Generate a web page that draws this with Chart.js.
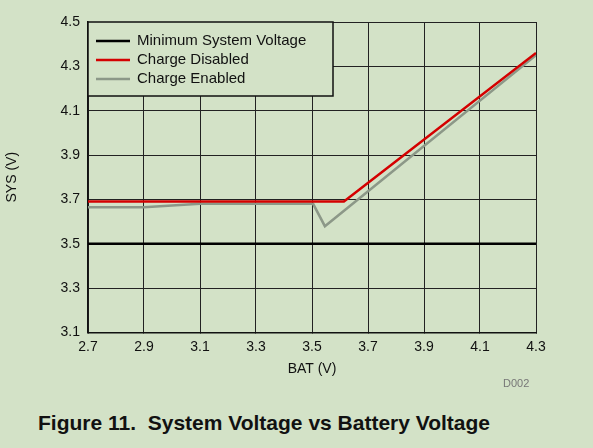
<!DOCTYPE html>
<html><head>
<script src="https://cdn.jsdelivr.net/npm/chart.js@4"></script>
<style>
body{margin:0;background:#d3e2c7;width:593px;height:448px;overflow:hidden;font-family:"Liberation Sans",Arial,sans-serif}
#wrap{position:absolute;left:0;top:0;width:593px;height:400px}
#cap{position:absolute;left:38px;top:411px;font-weight:bold;font-size:21px;color:#111}
#d{position:absolute;left:503px;top:377px;font-size:11px;color:#777}
</style></head><body>
<div id="wrap"><canvas id="c"></canvas></div>
<div id="d">D002</div>
<div id="cap">Figure 11.&nbsp; System Voltage vs Battery Voltage</div>
<script>
const xTicks = [2.7, 2.9, 3.1, 3.3, 3.5, 3.7, 3.9, 4.1, 4.3];
const yTicks = [3.1, 3.3, 3.5, 3.7, 3.9, 4.1, 4.3, 4.5];
const minSys = [{x: 2.7, y: 3.5}, {x: 4.3, y: 3.5}];
const chargeDisabled = [{x: 2.7, y: 3.69}, {x: 3.614, y: 3.69}, {x: 4.3, y: 4.36}];
const chargeEnabled = [{x: 2.7, y: 3.665}, {x: 2.9, y: 3.665}, {x: 3.1, y: 3.68}, {x: 3.504, y: 3.68}, {x: 3.546, y: 3.579}, {x: 4.3, y: 4.35}];

new Chart(document.getElementById('c'), {
  type: 'line',
  data: {
    datasets: [
      { label: 'Minimum System Voltage', data: minSys, borderColor: '#000', borderWidth: 2.5 },
      { label: 'Charge Disabled', data: chargeDisabled, borderColor: '#d40000', borderWidth: 2.5 },
      { label: 'Charge Enabled', data: chargeEnabled, borderColor: '#8c9888', borderWidth: 2.5 }
    ]
  },
  options: {
    responsive: true, maintainAspectRatio: false, animation: false,
    layout: { padding: { left: 0, right: 57, top: 22, bottom: 22 } },
    elements: { point: { radius: 0 }, line: { tension: 0 } },
    plugins: {
      legend: { display: false },
      tooltip: { enabled: false }
    },
    scales: {
      x: {
        type: 'linear', min: 2.7, max: 4.3,
        afterBuildTicks: a => { a.ticks = xTicks.map(v => ({ value: v })); },
        ticks: { color: '#111', font: { size: 14 }, callback: v => v.toFixed(1), padding: 6 },
        grid: { color: '#222', lineWidth: 1, tickLength: 0 },
        border: { color: '#111', width: 1.5 },
        title: { display: true, text: 'BAT (V)', color: '#111', font: { size: 14 }, padding: 0 }
      },
      y: {
        min: 3.1, max: 4.5,
        afterBuildTicks: a => { a.ticks = yTicks.map(v => ({ value: v })); },
        afterFit: a => { a.width = 88; },
        ticks: { color: '#111', font: { size: 14 }, callback: v => v.toFixed(1), padding: 8 },
        grid: { color: '#222', lineWidth: 1, tickLength: 0 },
        border: { color: '#111', width: 1.5 },
        title: { display: true, text: 'SYS (V)', color: '#111', font: { size: 14 } }
      }
    }
  },
  plugins: [{
    id: 'box',
    afterDraw(chart) {
      const { ctx, chartArea: a } = chart;
      const x = a.left, y = a.top, w = 245, h = 74;
      ctx.save();
      ctx.fillStyle = '#d3e2c7';
      ctx.fillRect(x, y, w, h);
      ctx.strokeStyle = '#111'; ctx.lineWidth = 1.5;
      ctx.strokeRect(x, y, w, h);
      ctx.font = '15px "Liberation Sans", Arial, sans-serif';
      ctx.textBaseline = 'middle';
      chart.data.datasets.forEach((d, i) => {
        const ly = y + 19 + i * 19;
        ctx.strokeStyle = d.borderColor; ctx.lineWidth = 2.5;
        ctx.beginPath(); ctx.moveTo(x + 8, ly); ctx.lineTo(x + 42, ly); ctx.stroke();
        ctx.fillStyle = '#111';
        ctx.fillText(d.label, x + 49, ly);
      });
      ctx.restore();
    }
  }]
});
</script>
</body></html>
